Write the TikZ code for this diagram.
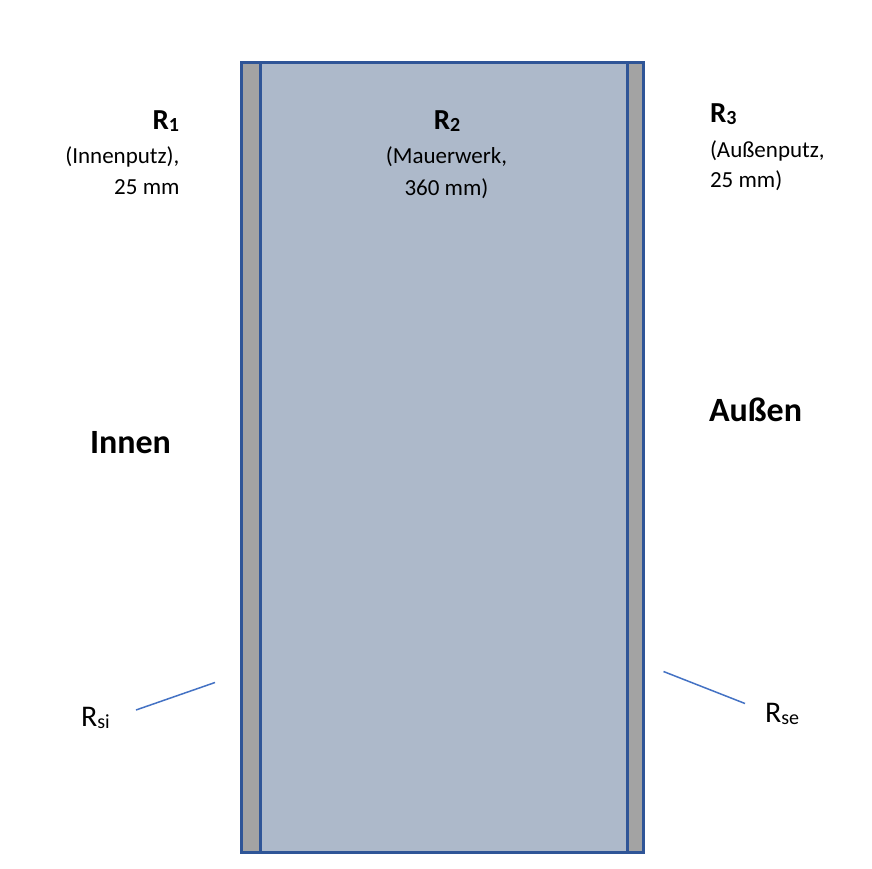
\documentclass[tikz,border=0pt]{standalone}
\usepackage{fontspec}
\setmainfont{Carlito}
\definecolor{wallline}{HTML}{2F5597}
\definecolor{plaster}{HTML}{A3A3A3}
\definecolor{masonry}{HTML}{ADB9CA}
\definecolor{leader}{HTML}{4472C4}
\tikzset{
  layerbox/.style={draw=wallline,line width=3pt,line join=miter,outer sep=0pt,inner sep=0pt,minimum height=789pt,anchor=north west},
  lab/.style={inner sep=0pt,outer sep=0pt,text=black,align=center},
  heading/.style={lab,font=\bfseries\fontsize{34}{34}\selectfont},
  rhead/.style={lab,font=\bfseries\fontsize{29}{29}\selectfont},
  small/.style={lab,font=\fontsize{23}{29}\selectfont},
  rlab/.style={lab,font=\fontsize{30}{30}\selectfont}
}
\newcommand{\sbs}[1]{{\fontsize{20}{20}\selectfont\raisebox{-2pt}{#1}}}
\begin{document}
\begin{tikzpicture}[x=1pt,y=-1pt]
\useasboundingbox (0,0) rectangle (872,869);
\fill[white] (0,0) rectangle (872,869);
\node[layerbox,fill=plaster,minimum width=18.7pt] (r1) at (241.3,63) {};
\node[layerbox,fill=masonry,minimum width=367.2pt] (r2) at (260,63) {};
\node[layerbox,fill=plaster,minimum width=16.6pt] (r3) at (627.2,63) {};
\node[rhead,anchor=base east] (t1) at (179,130) {R\sbs{1}};
\node[small,anchor=base east] (t1a) at (179.5,164) {(Innenputz),};
\node[small,anchor=base east] (t1b) at (179.5,194.5) {25 mm};
\node[rhead,anchor=base] (t2) at (447,130) {R\sbs{2}};
\node[small,anchor=base] (t2a) at (446.5,164) {(Mauerwerk,};
\node[small,anchor=base] (t2b) at (446.5,195.5) {360 mm)};
\node[rhead,anchor=base west] (t3) at (710,123) {R\sbs{3}};
\node[small,anchor=base west] (t3a) at (710,157.5) {(Außenputz,};
\node[small,anchor=base west] (t3b) at (710,187.5) {25 mm)};
\node[heading,anchor=base west] (innen) at (90,453) {Innen};
\node[heading,anchor=base west] (aussen) at (709,421) {Außen};
\node[rlab,anchor=base west] (rsi) at (81,726.5) {R\sbs{si}};
\node[rlab,anchor=base west] (rse) at (765,722.5) {R\sbs{se}};
\coordinate (a1) at (136,710);
\coordinate (a2) at (215,682.5);
\coordinate (b1) at (663.5,671.5);
\coordinate (b2) at (745,703.5);
\draw[draw=leader,line width=1.5pt] (a1) -- (a2);
\draw[draw=leader,line width=1.5pt] (b1) -- (b2);
\end{tikzpicture}
\end{document}
